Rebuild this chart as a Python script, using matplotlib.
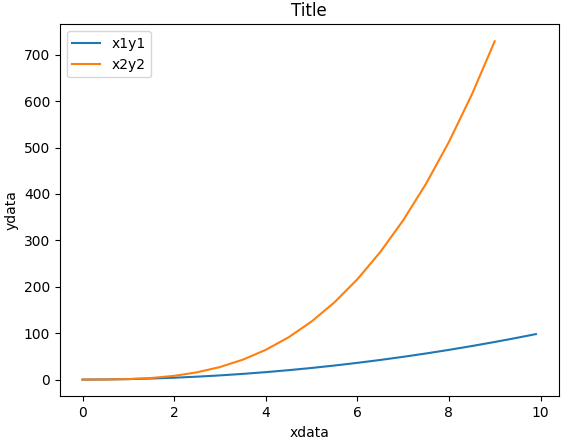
import matplotlib
matplotlib.use("Agg")
import matplotlib.pyplot as plt

x1 = [0, 0.5, 1, 1.5, 2, 2.5, 3, 3.5, 4, 4.5, 5, 5.5, 6, 6.5, 7, 7.5, 8, 8.5, 9, 9.5, 9.9]
y1 = [0, 0.25, 1, 2.25, 4, 6.25, 9, 12.25, 16, 20.25, 25, 30.25, 36, 42.25, 49, 56.25, 64, 72.25, 81, 90.25, 98]
x2 = [0, 0.5, 1, 1.5, 2, 2.5, 3, 3.5, 4, 4.5, 5, 5.5, 6, 6.5, 7, 7.5, 8, 8.5, 9]
y2 = [0, 0.125, 1, 3.375, 8, 15.625, 27, 42.875, 64, 91.125, 125, 166.375, 216, 274.625, 343, 421.875, 512, 614.125, 729]

fig, ax = plt.subplots(figsize=(5.7, 4.43), dpi=100)
ax.plot(x1, y1, label="x1y1")
ax.plot(x2, y2, label="x2y2")
ax.set_xlabel("xdata")
ax.set_ylabel("ydata")
ax.set_title("Title")
ax.legend(loc="upper left")
fig.subplots_adjust(left=0.105, right=0.98, bottom=0.105, top=0.945)
fig.savefig("out.png")
